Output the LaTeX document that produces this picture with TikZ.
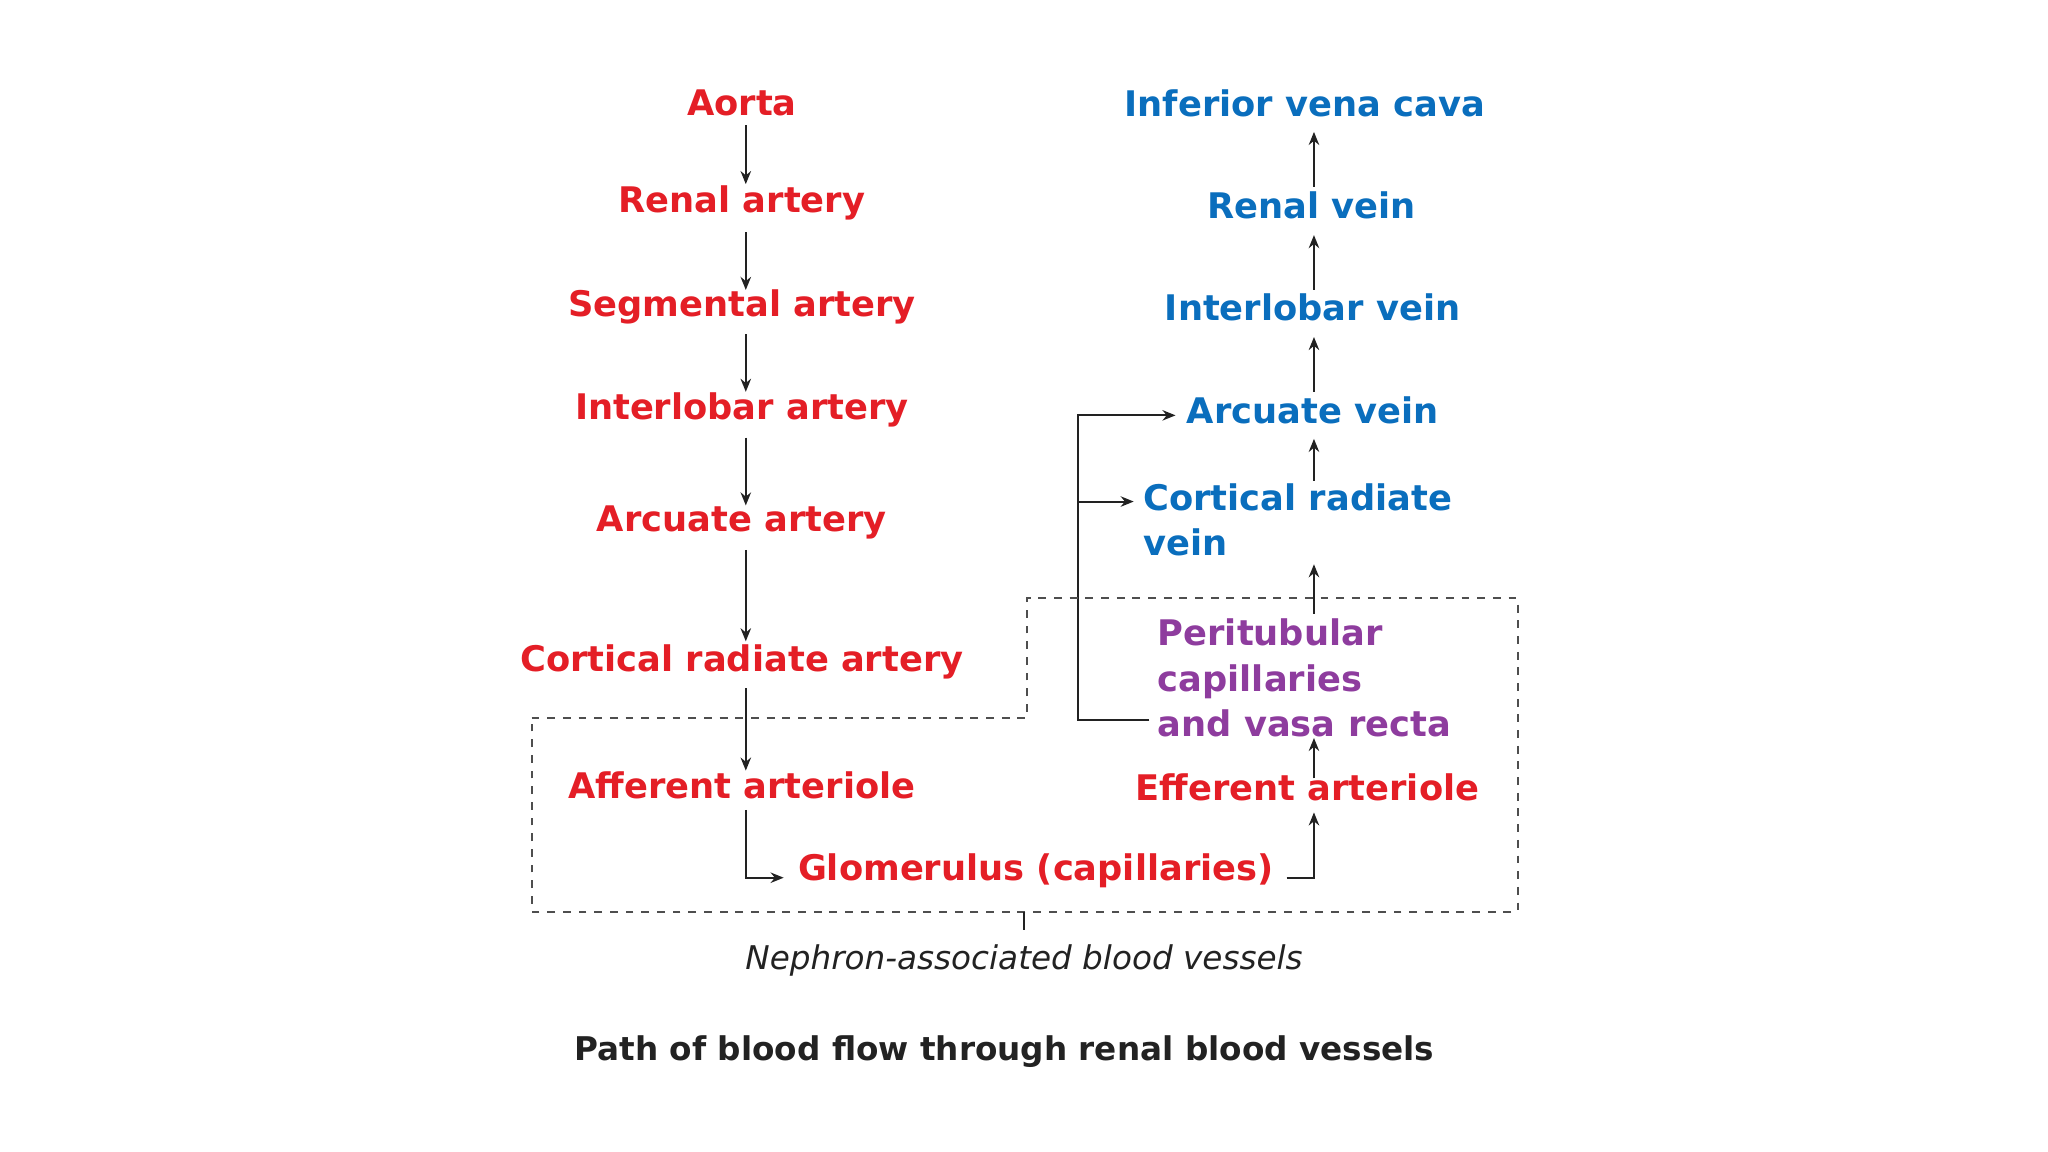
\documentclass[tikz,border=0pt]{standalone}
\usepackage{fontspec}
\setmainfont{DejaVu Sans}
\usetikzlibrary{arrows.meta}
\definecolor{art}{HTML}{E41E26}
\definecolor{vein}{HTML}{0A6EBD}
\definecolor{cap}{HTML}{8E3C9E}
\definecolor{ink}{HTML}{222222}
\begin{document}
\begin{tikzpicture}[x=0.5pt,y=-0.5pt,
  lab/.style={font=\fontsize{13.5}{17.5}\selectfont\bfseries, inner sep=1pt},
  a/.style={lab,text=art}, v/.style={lab,text=vein}, p/.style={lab,text=cap,align=left},
  ar/.style={-{Stealth[length=5pt,width=4pt]}, ink, line width=0.8pt}]
\useasboundingbox (0,0) rectangle (1568,882);
\node[a] (aorta) at (568,79) {Aorta};
\node[a] (renA) at (568,155) {Renal artery};
\node[a] (segA) at (568,235) {Segmental artery};
\node[a] (intA) at (568,314) {Interlobar artery};
\node[a] (arcA) at (568,400) {Arcuate artery};
\node[a] (corA) at (568,507) {Cortical radiate artery};
\node[a] (aff) at (568,601) {Afferent arteriole};
\node[a] (glom) at (793,667) {Glomerulus (capillaries)};
\node[v] (ivc) at (999,79) {Inferior vena cava};
\node[v] (renV) at (1004,157) {Renal vein};
\node[v] (intV) at (1005,235) {Interlobar vein};
\node[v] (arcV) at (1005,314) {Arcuate vein};
\node[v,align=left,anchor=west] (corV) at (873,398) {Cortical radiate\\vein};
\node[p,anchor=west] (peri) at (884,519) {Peritubular\\capillaries\\and vasa recta};
\node[a] (eff) at (1001,603) {Efferent arteriole};
\node[font=\fontsize{12.5}{15}\selectfont\itshape, text=ink] (neph) at (784,735) {Nephron-associated blood vessels};
\node[font=\fontsize{12.5}{15}\selectfont\bfseries, text=ink] (title) at (769,805) {Path of blood flow through renal blood vessels};
\draw[ar] (571,96) -- (571,141);
\draw[ar] (571,178) -- (571,222);
\draw[ar] (571,256) -- (571,300);
\draw[ar] (571,335) -- (571,387);
\draw[ar] (571,421) -- (571,491);
\draw[ar] (571,527) -- (571,590);
\draw[ar] (571,620) -- (571,672) -- (600,672);
\draw[ar] (985,672) -- (1006,672) -- (1006,622);
\draw[ar] (1006,596) -- (1006,565);
\draw[ar] (1006,470) -- (1006,432);
\draw[ar] (1006,368) -- (1006,336);
\draw[ar] (1006,300) -- (1006,258);
\draw[ar] (1006,222) -- (1006,180);
\draw[ar] (1006,143) -- (1006,101);
\draw[ar] (880,551) -- (825,551) -- (825,318) -- (900,318);
\draw[ar] (825,384) -- (868,384);
\draw[ink!80, dashed, line width=0.7pt] (407,550) -- (786,550) -- (786,458) -- (1162,458) -- (1162,698) -- (407,698) -- cycle;
\draw[ink, line width=0.6pt] (784,698) -- (784,712);
\end{tikzpicture}
\end{document}
